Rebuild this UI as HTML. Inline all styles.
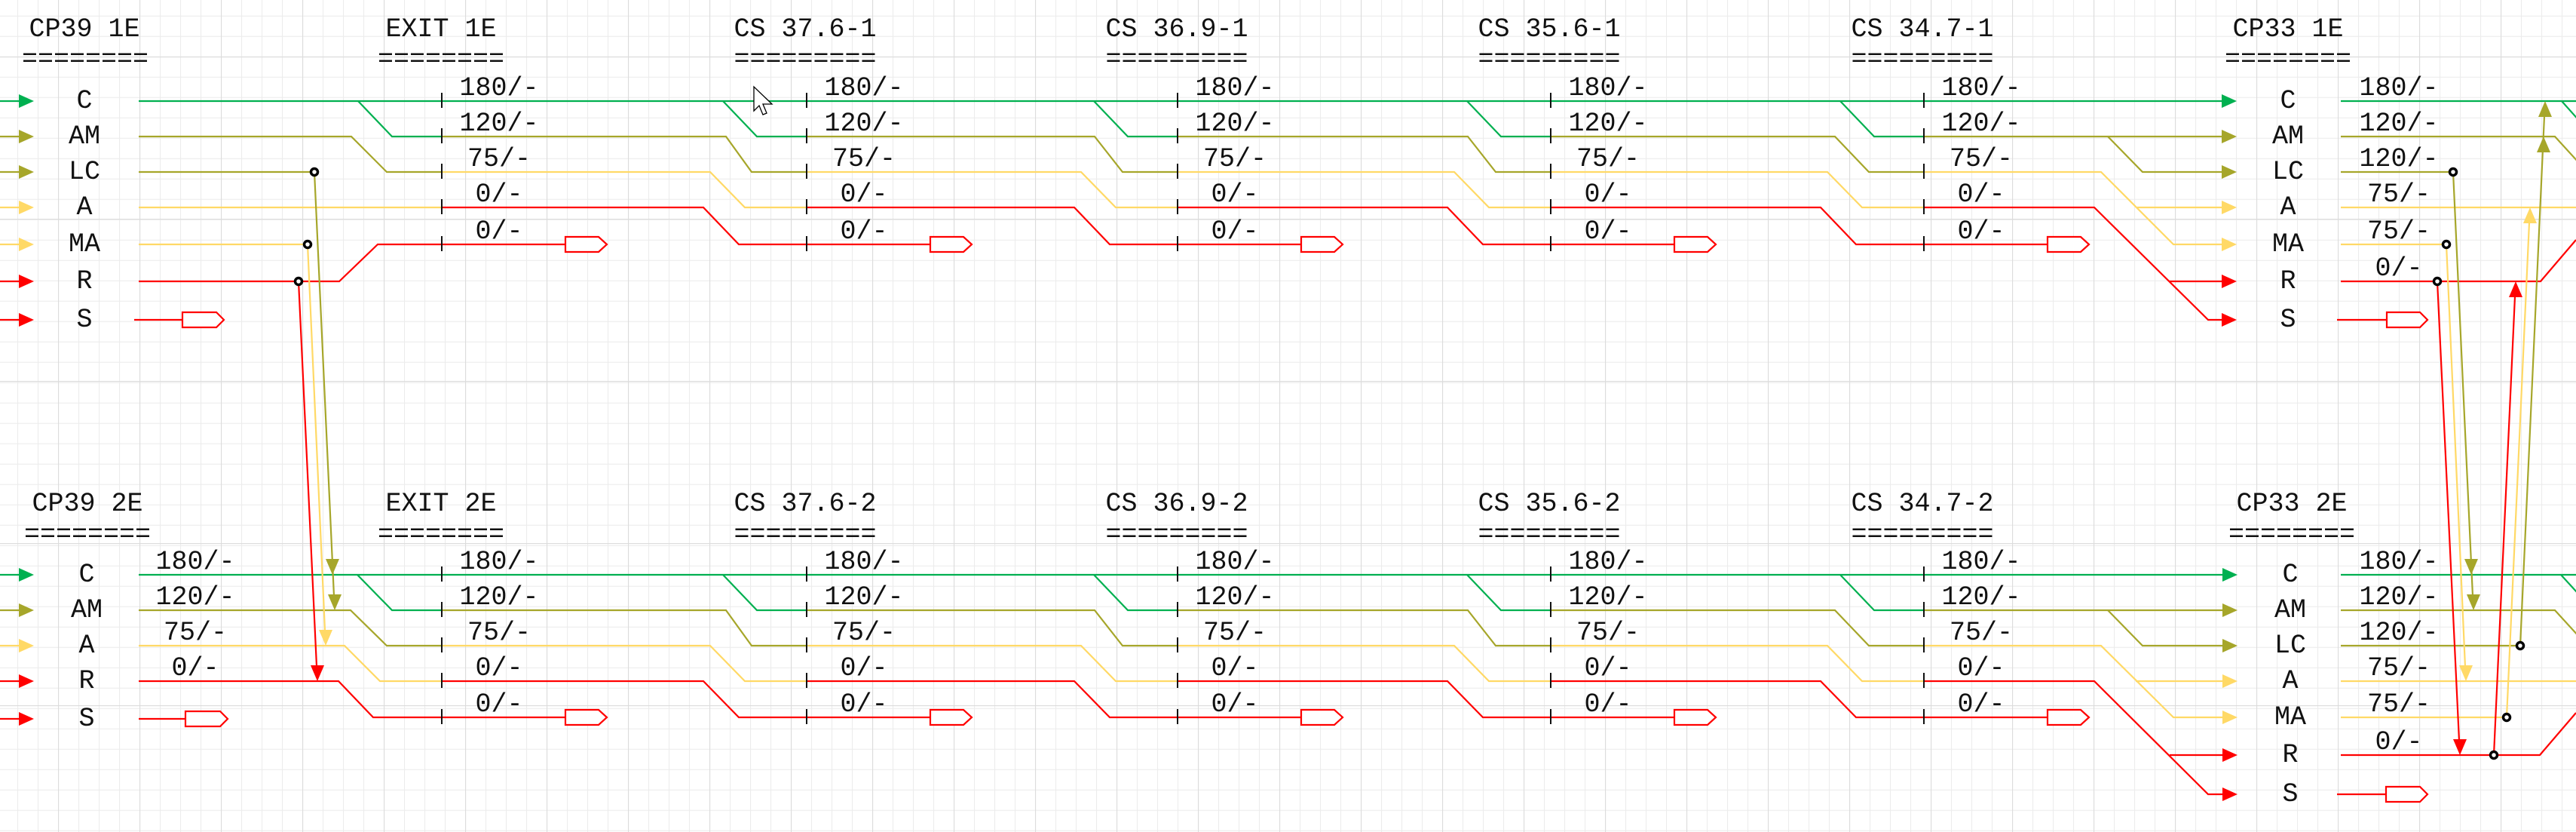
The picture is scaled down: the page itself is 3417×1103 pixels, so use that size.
<!DOCTYPE html>
<html><head><meta charset="utf-8">
<style>
html,body{margin:0;padding:0;background:#fff;}
svg{display:block;}
text{font-family:"Liberation Mono","DejaVu Sans Mono",monospace;font-size:35px;fill:#111;}
.g{stroke:#00b050;} .o{stroke:#a6a62a;} .y{stroke:#ffd966;} .r{stroke:#ff0000;}
path,line{fill:none;stroke-width:2.2;}
.t{stroke:#111;stroke-width:2;}
.fg{fill:#00b050;} .fo{fill:#a6a62a;} .fy{fill:#ffd966;} .fr{fill:#ff0000;}
.box{fill:#fff;stroke:#ff0000;stroke-width:2.2;}
.dot{fill:#fff;stroke:#000;stroke-width:3.5;}
</style></head><body>
<svg width="3417" height="1103" viewBox="0 0 3417 1103" xmlns="http://www.w3.org/2000/svg">
<defs>
<pattern id="gr" x="23" y="20.7" width="27" height="27" patternUnits="userSpaceOnUse">
<line x1="0" y1="0" x2="0" y2="27" stroke="#ececec" stroke-width="2"/>
<line x1="0" y1="0" x2="27" y2="0" stroke="#ececec" stroke-width="2"/>
</pattern>
<pattern id="gv" x="185" y="0" width="108" height="1103" patternUnits="userSpaceOnUse">
<line x1="0" y1="0" x2="0" y2="1103" stroke="#dcdcdc" stroke-width="2"/>
</pattern>
<pattern id="gh" x="0" y="75" width="3417" height="215" patternUnits="userSpaceOnUse">
<line x1="0" y1="0" x2="3417" y2="0" stroke="#dcdcdc" stroke-width="2"/>
</pattern>
</defs>
<rect width="3417" height="1103" fill="#fff"/>
<rect width="3417" height="1103" fill="url(#gr)"/>
<rect width="3417" height="1103" fill="url(#gv)"/>
<rect width="3417" height="1103" fill="url(#gh)"/>

<!-- ================= HEADERS ================= -->
<g text-anchor="middle">
<text x="112" y="48">CP39 1E</text><text x="113" y="88">========</text>
<text x="585" y="48">EXIT 1E</text><text x="585" y="88">========</text>
<text x="1068" y="48">CS 37.6-1</text><text x="1068" y="88">=========</text>
<text x="1561" y="48">CS 36.9-1</text><text x="1561" y="88">=========</text>
<text x="2055" y="48">CS 35.6-1</text><text x="2055" y="88">=========</text>
<text x="2550" y="48">CS 34.7-1</text><text x="2550" y="88">=========</text>
<text x="3035" y="48">CP33 1E</text><text x="3035" y="88">========</text>

<text x="116" y="677">CP39 2E</text><text x="116" y="718">========</text>
<text x="585" y="677">EXIT 2E</text><text x="585" y="718">========</text>
<text x="1068" y="677">CS 37.6-2</text><text x="1068" y="718">=========</text>
<text x="1561" y="677">CS 36.9-2</text><text x="1561" y="718">=========</text>
<text x="2055" y="677">CS 35.6-2</text><text x="2055" y="718">=========</text>
<text x="2550" y="677">CS 34.7-2</text><text x="2550" y="718">=========</text>
<text x="3040" y="677">CP33 2E</text><text x="3040" y="718">========</text>

<!-- row letters -->
<text x="112" y="143">C</text><text x="112" y="190">AM</text><text x="112" y="237">LC</text><text x="112" y="284">A</text><text x="112" y="333">MA</text><text x="112" y="382">R</text><text x="112" y="433">S</text>
<text x="115" y="771">C</text><text x="115" y="818">AM</text><text x="115" y="865">A</text><text x="115" y="912">R</text><text x="115" y="962">S</text>
<text x="3035" y="143">C</text><text x="3035" y="190">AM</text><text x="3035" y="237">LC</text><text x="3035" y="284">A</text><text x="3035" y="333">MA</text><text x="3035" y="382">R</text><text x="3035" y="433">S</text>
<text x="3038" y="771">C</text><text x="3038" y="818">AM</text><text x="3038" y="865">LC</text><text x="3038" y="912">A</text><text x="3038" y="960">MA</text><text x="3038" y="1010">R</text><text x="3038" y="1062">S</text>

<!-- speed labels top stations -->
<text x="662" y="126">180/-</text><text x="662" y="173">120/-</text><text x="662" y="220">75/-</text><text x="662" y="267">0/-</text><text x="662" y="316">0/-</text>
<text x="1146" y="126">180/-</text><text x="1146" y="173">120/-</text><text x="1146" y="220">75/-</text><text x="1146" y="267">0/-</text><text x="1146" y="316">0/-</text>
<text x="1638" y="126">180/-</text><text x="1638" y="173">120/-</text><text x="1638" y="220">75/-</text><text x="1638" y="267">0/-</text><text x="1638" y="316">0/-</text>
<text x="2133" y="126">180/-</text><text x="2133" y="173">120/-</text><text x="2133" y="220">75/-</text><text x="2133" y="267">0/-</text><text x="2133" y="316">0/-</text>
<text x="2628" y="126">180/-</text><text x="2628" y="173">120/-</text><text x="2628" y="220">75/-</text><text x="2628" y="267">0/-</text><text x="2628" y="316">0/-</text>
<text x="3182" y="126">180/-</text><text x="3182" y="173">120/-</text><text x="3182" y="220">120/-</text><text x="3182" y="267">75/-</text><text x="3182" y="316">75/-</text><text x="3182" y="365">0/-</text>
<!-- bottom -->
<text x="259" y="754">180/-</text><text x="259" y="801">120/-</text><text x="259" y="848">75/-</text><text x="259" y="895">0/-</text>
<text x="662" y="754">180/-</text><text x="662" y="801">120/-</text><text x="662" y="848">75/-</text><text x="662" y="895">0/-</text><text x="662" y="943">0/-</text>
<text x="1146" y="754">180/-</text><text x="1146" y="801">120/-</text><text x="1146" y="848">75/-</text><text x="1146" y="895">0/-</text><text x="1146" y="943">0/-</text>
<text x="1638" y="754">180/-</text><text x="1638" y="801">120/-</text><text x="1638" y="848">75/-</text><text x="1638" y="895">0/-</text><text x="1638" y="943">0/-</text>
<text x="2133" y="754">180/-</text><text x="2133" y="801">120/-</text><text x="2133" y="848">75/-</text><text x="2133" y="895">0/-</text><text x="2133" y="943">0/-</text>
<text x="2628" y="754">180/-</text><text x="2628" y="801">120/-</text><text x="2628" y="848">75/-</text><text x="2628" y="895">0/-</text><text x="2628" y="943">0/-</text>
<text x="3182" y="754">180/-</text><text x="3182" y="801">120/-</text><text x="3182" y="848">120/-</text><text x="3182" y="895">75/-</text><text x="3182" y="943">75/-</text><text x="3182" y="993">0/-</text>
</g>

<!-- ================= TOP BLOCK ================= -->
<!-- left entry arrows -->
<line class="g" x1="0" y1="134" x2="30" y2="134"/><polygon class="fg" points="45,134 25,125 25,143"/>
<line class="o" x1="0" y1="181" x2="30" y2="181"/><polygon class="fo" points="45,181 25,172 25,190"/>
<line class="o" x1="0" y1="228" x2="30" y2="228"/><polygon class="fo" points="45,228 25,219 25,237"/>
<line class="y" x1="0" y1="275" x2="30" y2="275"/><polygon class="fy" points="45,275 25,266 25,284"/>
<line class="y" x1="0" y1="324" x2="30" y2="324"/><polygon class="fy" points="45,324 25,315 25,333"/>
<line class="r" x1="0" y1="373" x2="30" y2="373"/><polygon class="fr" points="45,373 25,364 25,382"/>
<line class="r" x1="0" y1="424" x2="30" y2="424"/><polygon class="fr" points="45,424 25,415 25,433"/>

<!-- main C line -->
<path class="g" d="M184 134 H2950"/>
<!-- seg 1 -->
<path class="g" d="M475 134 L520 181 H586"/>
<path class="o" d="M184 181 H466 L513 228 H586"/>
<path class="o" d="M184 228 H417"/>
<path class="y" d="M184 275 H586"/>
<path class="y" d="M184 324 H408"/>
<path class="r" d="M184 373 H450 L501 324 H750"/>
<path class="r" d="M178 424 H242"/>
<polygon class="box" points="242,414 287,414 297,424 287,434 242,434"/>
<!-- seg 2 (T=1070) -->
<path class="g" d="M959 134 L1004 181 H1070"/>
<path class="o" d="M586 181 H963 L997 228 H1070"/>
<path class="y" d="M586 228 H942 L988 275 H1070"/>
<path class="r" d="M586 275 H933 L980 324 H1234"/>
<!-- seg 3 (T=1562) -->
<path class="g" d="M1451 134 L1496 181 H1562"/>
<path class="o" d="M1070 181 H1452 L1489 228 H1562"/>
<path class="y" d="M1070 228 H1434 L1480 275 H1562"/>
<path class="r" d="M1070 275 H1425 L1472 324 H1726"/>
<!-- seg 4 (T=2057) -->
<path class="g" d="M1946 134 L1991 181 H2057"/>
<path class="o" d="M1562 181 H1947 L1984 228 H2057"/>
<path class="y" d="M1562 228 H1929 L1975 275 H2057"/>
<path class="r" d="M1562 275 H1920 L1967 324 H2221"/>
<!-- seg 5 (T=2552) -->
<path class="g" d="M2441 134 L2486 181 H2552"/>
<path class="o" d="M2057 181 H2434 L2479 228 H2552"/>
<path class="y" d="M2057 228 H2424 L2470 275 H2552"/>
<path class="r" d="M2057 275 H2415 L2462 324 H2716"/>
<!-- last seg to CP33 -->
<path class="o" d="M2552 181 H2950"/>
<path class="o" d="M2796 181 L2842 228 H2950"/>
<path class="y" d="M2552 228 H2787 L2883 324 H2950"/>
<path class="y" d="M2835 275 H2950"/>
<path class="r" d="M2552 275 H2778 L2929 424 H2950"/>
<path class="r" d="M2877 373 H2950"/>
<!-- boxes top -->
<polygon class="box" points="750,314 794,314 805,324 794,334 750,334"/>
<polygon class="box" points="1234,314 1278,314 1289,324 1278,334 1234,334"/>
<polygon class="box" points="1726,314 1770,314 1781,324 1770,334 1726,334"/>
<polygon class="box" points="2221,314 2265,314 2276,324 2265,334 2221,334"/>
<polygon class="box" points="2716,314 2760,314 2771,324 2760,334 2716,334"/>
<!-- CP33 1E arrows -->
<polygon class="fg" points="2967,134 2947,125 2947,143"/>
<polygon class="fo" points="2967,181 2947,172 2947,190"/>
<polygon class="fo" points="2967,228 2947,219 2947,237"/>
<polygon class="fy" points="2967,275 2947,266 2947,284"/>
<polygon class="fy" points="2967,324 2947,315 2947,333"/>
<polygon class="fr" points="2967,373 2947,364 2947,382"/>
<polygon class="fr" points="2967,424 2947,415 2947,433"/>
<!-- CP33 1E right tracks -->
<path class="g" d="M3105 134 H3417"/><path class="g" d="M3398 134 L3440 181"/>
<path class="o" d="M3105 181 H3389 L3432 228"/>
<path class="o" d="M3105 228 H3254"/>
<path class="y" d="M3105 275 H3417"/>
<path class="y" d="M3105 324 H3245"/>
<path class="r" d="M3105 373 H3370 L3417 318"/>
<path class="r" d="M3100 424 H3166"/>
<polygon class="box" points="3166,414 3210,414 3220,424 3210,434 3166,434"/>

<!-- ticks top -->
<g class="t">
<path class="t" d="M586 123V143 M586 170V190 M586 217V237 M586 264V284 M586 313V333"/>
<path class="t" d="M1070 123V143 M1070 170V190 M1070 217V237 M1070 264V284 M1070 313V333"/>
<path class="t" d="M1562 123V143 M1562 170V190 M1562 217V237 M1562 264V284 M1562 313V333"/>
<path class="t" d="M2057 123V143 M2057 170V190 M2057 217V237 M2057 264V284 M2057 313V333"/>
<path class="t" d="M2552 123V143 M2552 170V190 M2552 217V237 M2552 264V284 M2552 313V333"/>
</g>

<!-- ================= BOTTOM BLOCK ================= -->
<line class="g" x1="0" y1="762" x2="30" y2="762"/><polygon class="fg" points="45,762 25,753 25,771"/>
<line class="o" x1="0" y1="809" x2="30" y2="809"/><polygon class="fo" points="45,809 25,800 25,818"/>
<line class="y" x1="0" y1="856" x2="30" y2="856"/><polygon class="fy" points="45,856 25,847 25,865"/>
<line class="r" x1="0" y1="903" x2="30" y2="903"/><polygon class="fr" points="45,903 25,894 25,912"/>
<line class="r" x1="0" y1="953" x2="30" y2="953"/><polygon class="fr" points="45,953 25,944 25,962"/>

<path class="g" d="M184 762 H2950"/>
<path class="g" d="M474 762 L520 809 H586"/>
<path class="o" d="M184 809 H465 L513 856 H586"/>
<path class="y" d="M184 856 H457 L504 903 H586"/>
<path class="r" d="M184 903 H449 L495 951 H750"/>
<path class="r" d="M184 953 H246"/>
<polygon class="box" points="246,943 292,943 302,953 292,963 246,963"/>
<path class="g" d="M959 762 L1004 809 H1070"/>
<path class="o" d="M586 809 H963 L997 856 H1070"/>
<path class="y" d="M586 856 H942 L988 903 H1070"/>
<path class="r" d="M586 903 H933 L980 951 H1234"/>
<path class="g" d="M1451 762 L1496 809 H1562"/>
<path class="o" d="M1070 809 H1452 L1489 856 H1562"/>
<path class="y" d="M1070 856 H1434 L1480 903 H1562"/>
<path class="r" d="M1070 903 H1425 L1472 951 H1726"/>
<path class="g" d="M1946 762 L1991 809 H2057"/>
<path class="o" d="M1562 809 H1947 L1984 856 H2057"/>
<path class="y" d="M1562 856 H1929 L1975 903 H2057"/>
<path class="r" d="M1562 903 H1920 L1967 951 H2221"/>
<path class="g" d="M2441 762 L2486 809 H2552"/>
<path class="o" d="M2057 809 H2434 L2479 856 H2552"/>
<path class="y" d="M2057 856 H2424 L2470 903 H2552"/>
<path class="r" d="M2057 903 H2415 L2462 951 H2716"/>
<path class="o" d="M2552 809 H2950"/>
<path class="o" d="M2796 809 L2842 856 H2950"/>
<path class="y" d="M2552 856 H2787 L2883 951 H2950"/>
<path class="y" d="M2833 903 H2950"/>
<path class="r" d="M2552 903 H2778 L2929 1053 H2950"/>
<path class="r" d="M2878 1001 H2950"/>
<polygon class="box" points="750,941 794,941 805,951 794,961 750,961"/>
<polygon class="box" points="1234,941 1278,941 1289,951 1278,961 1234,961"/>
<polygon class="box" points="1726,941 1770,941 1781,951 1770,961 1726,961"/>
<polygon class="box" points="2221,941 2265,941 2276,951 2265,961 2221,961"/>
<polygon class="box" points="2716,941 2760,941 2771,951 2760,961 2716,961"/>
<polygon class="fg" points="2968,762 2948,753 2948,771"/>
<polygon class="fo" points="2968,809 2948,800 2948,818"/>
<polygon class="fo" points="2968,856 2948,847 2948,865"/>
<polygon class="fy" points="2968,903 2948,894 2948,912"/>
<polygon class="fy" points="2968,951 2948,942 2948,960"/>
<polygon class="fr" points="2968,1001 2948,992 2948,1010"/>
<polygon class="fr" points="2968,1053 2948,1044 2948,1062"/>
<path class="g" d="M3105 762 H3417"/><path class="g" d="M3397 762 L3440 809"/>
<path class="o" d="M3105 809 H3389 L3432 856"/>
<path class="o" d="M3105 856 H3343"/>
<path class="y" d="M3105 903 H3417"/>
<path class="y" d="M3105 951 H3325"/>
<path class="r" d="M3105 1001 H3369 L3417 945"/>
<path class="r" d="M3100 1053 H3165"/>
<polygon class="box" points="3165,1043 3210,1043 3220,1053 3210,1063 3165,1063"/>
<g>
<path class="t" d="M586 751V771 M586 798V818 M586 845V865 M586 892V912 M586 940V960"/>
<path class="t" d="M1070 751V771 M1070 798V818 M1070 845V865 M1070 892V912 M1070 940V960"/>
<path class="t" d="M1562 751V771 M1562 798V818 M1562 845V865 M1562 892V912 M1562 940V960"/>
<path class="t" d="M2057 751V771 M2057 798V818 M2057 845V865 M2057 892V912 M2057 940V960"/>
<path class="t" d="M2552 751V771 M2552 798V818 M2552 845V865 M2552 892V912 M2552 940V960"/>
</g>

<!-- ================= CROSS LINKS ================= -->
<!-- CP39 down -->
<path class="o" d="M417 228 L443 790"/>
<polygon class="fo" points="441,762 432,741 450,741"/>
<polygon class="fo" points="444,809 435,788 453,788"/>
<path class="y" d="M408 324 L431 836"/>
<polygon class="fy" points="432,856 423,835 441,835"/>
<path class="r" d="M396 373 L420 883"/>
<polygon class="fr" points="421,903 412,882 430,882"/>
<!-- CP33 down -->
<path class="o" d="M3254 228 L3280 790"/>
<polygon class="fo" points="3278,762 3269,741 3287,741"/>
<polygon class="fo" points="3281,809 3272,788 3290,788"/>
<path class="y" d="M3245 324 L3270 884"/>
<polygon class="fy" points="3271,903 3262,882 3280,882"/>
<path class="r" d="M3233 373 L3262 982"/>
<polygon class="fr" points="3263,1001 3254,980 3272,980"/>
<!-- CP33 up -->
<path class="o" d="M3343 856 L3375 154"/>
<polygon class="fo" points="3376,134 3367,155 3385,155"/>
<polygon class="fo" points="3374,181 3365,202 3383,202"/>
<path class="y" d="M3325 951 L3355 295"/>
<polygon class="fy" points="3356,275 3347,296 3365,296"/>
<path class="r" d="M3308 1001 L3336 393"/>
<polygon class="fr" points="3337,373 3328,394 3346,394"/>
<!-- dots -->
<circle class="dot" cx="417" cy="228" r="4.5"/>
<circle class="dot" cx="408" cy="324" r="4.5"/>
<circle class="dot" cx="396" cy="373" r="4.5"/>
<circle class="dot" cx="3254" cy="228" r="4.5"/>
<circle class="dot" cx="3245" cy="324" r="4.5"/>
<circle class="dot" cx="3233" cy="373" r="4.5"/>
<circle class="dot" cx="3343" cy="856" r="4.5"/>
<circle class="dot" cx="3325" cy="951" r="4.5"/>
<circle class="dot" cx="3308" cy="1001" r="4.5"/>

<!-- mouse cursor -->
<polygon points="1000,115 1000,147 1007,140 1012,152 1017,150 1012,138 1024,138" fill="#fff" stroke="#000" stroke-width="1.3"/>
</svg>
</body></html>
